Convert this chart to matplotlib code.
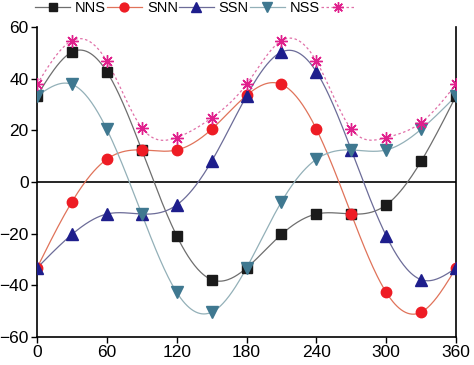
import numpy as np
import matplotlib
matplotlib.use("Agg")
import matplotlib.pyplot as plt

# data (angle in degrees)
angle = [0, 30, 60, 90, 120, 150, 180, 210, 240, 270, 300, 330, 360]
nns = [33.3, 50.3, 42.7, 12.4, -20.8, -37.8, -33.3, -20.3, -12.4, -12.4, -8.9, 8.0, 33.3]
snn = [-33.3, -7.7, 8.8, 12.4, 12.4, 20.4, 33.5, 37.8, 20.5, -12.4, -42.7, -50.4, -33.3]
ssn = [-33.3, -20.3, -12.4, -12.4, -8.9, 8.0, 33.3, 50.3, 42.7, 12.4, -20.8, -37.8, -33.3]
nss = [33.3, 37.8, 20.4, -12.4, -42.7, -50.4, -33.3, -7.7, 8.8, 12.4, 12.4, 20.4, 33.3]
tot = [37.8, 54.7, 46.8, 21.0, 17.2, 24.8, 37.8, 54.7, 46.8, 20.5, 17.2, 23.0, 37.8]


def spline(x, y, n=400):
    # natural cubic spline, just for drawing the smooth connecting line
    x = np.asarray(x, float)
    y = np.asarray(y, float)
    k = len(x)
    h = np.diff(x)
    A = np.zeros((k, k))
    b = np.zeros(k)
    A[0, 0] = A[-1, -1] = 1
    for i in range(1, k - 1):
        A[i, i - 1] = h[i - 1]
        A[i, i] = 2 * (h[i - 1] + h[i])
        A[i, i + 1] = h[i]
        b[i] = 6 * ((y[i + 1] - y[i]) / h[i] - (y[i] - y[i - 1]) / h[i - 1])
    M = np.linalg.solve(A, b)
    xs = np.linspace(x[0], x[-1], n)
    idx = np.clip(np.searchsorted(x, xs) - 1, 0, k - 2)
    x0, x1 = x[idx], x[idx + 1]
    hh = x1 - x0
    t0, t1 = x1 - xs, xs - x0
    ys = (M[idx] * t0**3 + M[idx + 1] * t1**3) / (6 * hh) \
        + (y[idx] / hh - M[idx] * hh / 6) * t0 + (y[idx + 1] / hh - M[idx + 1] * hh / 6) * t1
    return xs, ys


plt.rcParams['font.family'] = ['Liberation Sans', 'DejaVu Sans']

fig = plt.figure(figsize=(4.74, 3.65), dpi=100)
ax = fig.add_axes([37 / 474, 28 / 365, 419 / 474, 310 / 365])

series = [
    ('NNS', nns, 's', '#1a1a1a', '#6e6e6e', '-', 6.5),
    ('SNN', snn, 'o', '#ee1c24', '#e0735a', '-', 7.5),
    ('SSN', ssn, '^', '#1e1e8c', '#6c6c98', '-', 8),
    ('NSS', nss, 'v', '#3f7890', '#93b0b8', '-', 8),
    (' ', tot, (8, 2, 0), '#e0208c', '#e070a8', (0, (2, 2)), 9),
]

for name, vals, mk, mc, lc, ls, ms in series:
    xs, ys = spline(angle, vals)
    ax.plot(xs, ys, color=lc, lw=0.9, ls=ls, zorder=2)
    ax.plot(angle, vals, ls='none', marker=mk, color=mc, ms=ms, mec=mc, mew=1, zorder=3)

# legend proxies: line with marker in the middle
handles = []
for name, vals, mk, mc, lc, ls, ms in series:
    h, = ax.plot([], [], color=lc, lw=0.9, ls=ls, marker=mk, mfc=mc, mec=mc, ms=ms * 0.85, mew=1)
    handles.append(h)
fig.legend(handles, [s[0] for s in series], loc='center left',
           bbox_to_anchor=(35 / 474, 1 - 8 / 365), ncol=5, frameon=False,
           fontsize=10.5, handlelength=2.4, handletextpad=0.35, columnspacing=0.05,
           borderpad=0, borderaxespad=0)

ax.axhline(0, color='black', lw=1.2, zorder=1)
ax.set_xlim(0, 360)
ax.set_ylim(-60, 60)
ax.set_xticks(range(0, 361, 60))
ax.set_yticks(range(-60, 61, 20))
ax.tick_params(direction='out', length=4, width=1, labelsize=12.5, pad=2, colors='black')
ax.spines['top'].set_visible(False)
for s in ['left', 'bottom', 'right']:
    ax.spines[s].set_linewidth(1.2)

fig.savefig('out.png', dpi=100)
